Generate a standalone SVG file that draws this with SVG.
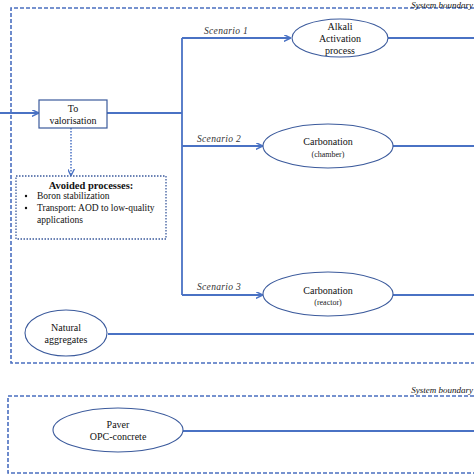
<svg xmlns="http://www.w3.org/2000/svg" width="474" height="474" viewBox="0 0 474 474">
<defs>
<style>
.bnd{fill:none;stroke:#4a6fc0;stroke-width:1.6;stroke-dasharray:4 2}
.ln{fill:none;stroke:#4a72c4;stroke-width:1.8}
.el{fill:#fff;stroke:#3b5a9c;stroke-width:1.1}
text{font-family:"Liberation Serif","DejaVu Serif","Noto Serif","Times New Roman",serif}
.t{font-size:10px;fill:#111;text-anchor:middle}
.s{font-size:8px;fill:#222;text-anchor:middle}
.sc{font-size:9.5px;font-style:italic;fill:#333;text-anchor:middle;letter-spacing:0.3px}
.sb{font-size:9px;font-style:italic;fill:#111;text-anchor:end}
.l{font-size:9.5px;fill:#111}
</style>
<marker id="ah" viewBox="0 0 10 10" refX="9" refY="5" markerWidth="7" markerHeight="7" markerUnits="userSpaceOnUse" orient="auto">
<path d="M0,0 L10,5 L0,10" fill="none" stroke="#4a72c4" stroke-width="2"/>
</marker>
</defs>
<rect width="474" height="474" fill="#fff"/>

<g id="boundary1">
<path class="bnd" d="M480,8 L11,8 L11,363 L480,363"/>
<text class="sb" x="473" y="7.5">System boundary</text>
</g>
<g id="boundary2">
<path class="bnd" d="M480,396 L8,396 L8,473 L480,473"/>
<text class="sb" x="473" y="393">System boundary</text>
</g>

<g id="connectors">
<path class="ln" d="M0,113 L38,113" marker-end="url(#ah)"/>
<path class="ln" d="M107,113 L182,113"/>
<path class="ln" d="M182,38 L182,295"/>
<path class="ln" d="M182,38 L290,38" marker-end="url(#ah)"/>
<path class="ln" d="M182,146 L262,146" marker-end="url(#ah)"/>
<path class="ln" d="M182,295 L262,295" marker-end="url(#ah)"/>
<path class="ln" d="M388,38 L474,38"/>
<path class="ln" d="M393,146 L474,146"/>
<path class="ln" d="M393,295 L474,295"/>
<path class="ln" d="M108,334 L474,334"/>
<path class="ln" d="M183,431 L474,431"/>
<path fill="none" stroke="#4a72c4" stroke-width="1.5" stroke-dasharray="1.5 1.5" d="M71,128 L71,175" marker-end="url(#ah)"/>
<text class="sc" x="226" y="34">Scenario 1</text>
<text class="sc" x="219" y="142">Scenario 2</text>
<text class="sc" x="219" y="290">Scenario 3</text>
</g>

<g id="valorisation">
<rect x="39" y="100" width="68" height="28" fill="#fff" stroke="#3b5a9c" stroke-width="1.2"/>
<text class="t" x="73" y="112">To</text>
<text class="t" x="73" y="124">valorisation</text>
</g>

<g id="avoided">
<rect x="16" y="176" width="150" height="63" fill="#fff" stroke="#3b5a9c" stroke-width="1.3" stroke-dasharray="1.5 1.5"/>
<text class="t" x="91" y="189" font-weight="bold" style="font-size:10.5px">Avoided processes:</text>
<circle cx="26" cy="196" r="1.2" fill="#111"/>
<circle cx="26" cy="208" r="1.2" fill="#111"/>
<text class="l" x="37" y="199">Boron stabilization</text>
<text class="l" x="37" y="211">Transport: AOD to low-quality</text>
<text class="l" x="37" y="223">applications</text>
</g>

<g id="alkali">
<ellipse class="el" cx="340" cy="38" rx="48" ry="19"/>
<text class="t" x="340" y="30">Alkali</text>
<text class="t" x="340" y="42">Activation</text>
<text class="t" x="340" y="54">process</text>
</g>

<g id="carbonation-chamber">
<ellipse class="el" cx="328" cy="146" rx="65" ry="22"/>
<text class="t" x="328" y="145">Carbonation</text>
<text class="s" x="328" y="157">(chamber)</text>
</g>

<g id="carbonation-reactor">
<ellipse class="el" cx="328" cy="294" rx="65" ry="22"/>
<text class="t" x="328" y="294">Carbonation</text>
<text class="s" x="328" y="305">(reactor)</text>
</g>

<g id="natural">
<ellipse class="el" cx="66" cy="333" rx="41" ry="23"/>
<text class="t" x="66" y="331">Natural</text>
<text class="t" x="66" y="343">aggregates</text>
</g>

<g id="paver">
<ellipse class="el" cx="118" cy="430" rx="65" ry="22"/>
<text class="t" x="118" y="428">Paver</text>
<text class="t" x="118" y="440">OPC-concrete</text>
</g>
</svg>
